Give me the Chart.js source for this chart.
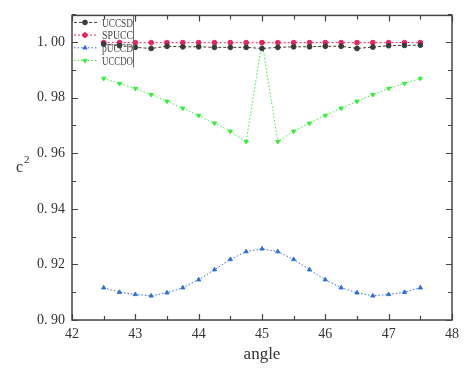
<!DOCTYPE html>
<html>
<head>
    <title>c2 vs angle</title>
    <script src="https://cdn.jsdelivr.net/npm/chart.js"></script>
    <style>
        body { margin: 0; background: #fff; }
    </style>
</head>
<body>
    <canvas id="c2Chart" width="474" height="379"></canvas>

    <script>
        // values
        const angles = [42.5, 42.75, 43, 43.25, 43.5, 43.75, 44, 44.25, 44.5, 44.75, 45,
                        45.25, 45.5, 45.75, 46, 46.25, 46.5, 46.75, 47, 47.25, 47.5];
        const uccsd = [0.9993, 0.9987, 0.9981, 0.9977, 0.9985, 0.9983, 0.9983, 0.9981, 0.9981, 0.9981, 0.9977,
                       0.9981, 0.9983, 0.9983, 0.9985, 0.9985, 0.9977, 0.9982, 0.9987, 0.9988, 0.9989];
        const spucc = [0.9998, 0.9998, 0.9998, 0.9998, 0.9998, 0.9998, 0.9998, 0.9998, 0.9998, 0.9998, 0.9998,
                       0.9998, 0.9998, 0.9998, 0.9998, 0.9998, 0.9998, 0.9998, 0.9998, 0.9998, 0.9998];
        const puccd = [0.9116, 0.9100, 0.9092, 0.9087, 0.9098, 0.9116, 0.9145, 0.9181, 0.9218, 0.9246, 0.9256,
                       0.9246, 0.9218, 0.9181, 0.9145, 0.9116, 0.9098, 0.9087, 0.9092, 0.9100, 0.9116];
        const uccdo = [0.9869, 0.9851, 0.9833, 0.9811, 0.9787, 0.9762, 0.9736, 0.9708, 0.9679, 0.9642, 1.0000,
                       0.9642, 0.9679, 0.9708, 0.9736, 0.9762, 0.9787, 0.9811, 0.9833, 0.9851, 0.9869];

        const xTicks = [42, 43, 44, 45, 46, 47, 48];
        const yTicks = [0.90, 0.92, 0.94, 0.96, 0.98, 1.00];

        const serif = '"Liberation Serif", "DejaVu Serif", serif';

        function pts(ys) {
            return angles.map((a, i) => ({ x: a, y: ys[i] }));
        }

        // frame, inward ticks on all four sides, legend and upright y title
        const framePlugin = {
            id: 'frame',
            afterDraw(chart) {
                const { ctx, chartArea: a, scales } = chart;
                const xs = scales.x, ys = scales.y;
                ctx.save();
                ctx.strokeStyle = '#444';
                ctx.lineWidth = 1.5;
                ctx.strokeRect(a.left, a.top, a.right - a.left, a.bottom - a.top);
                ctx.lineWidth = 1.2;
                ctx.beginPath();
                for (let v = 42; v <= 48.001; v += 0.5) {
                    const px = Math.round(xs.getPixelForValue(v)) + 0.5;
                    const len = Math.abs(v - Math.round(v)) < 0.01 ? 6 : 4;
                    ctx.moveTo(px, a.bottom); ctx.lineTo(px, a.bottom - len);
                    ctx.moveTo(px, a.top); ctx.lineTo(px, a.top + len);
                }
                for (let v = 0.90; v <= 1.0101; v += 0.01) {
                    const py = Math.round(ys.getPixelForValue(v)) + 0.5;
                    const major = Math.round(v * 100) % 2 === 0;
                    const len = major ? 6 : 4;
                    ctx.moveTo(a.left, py); ctx.lineTo(a.left + len, py);
                    ctx.moveTo(a.right, py); ctx.lineTo(a.right - len, py);
                }
                ctx.stroke();

                // y title, not rotated
                ctx.fillStyle = '#333';
                ctx.font = '16px ' + serif;
                ctx.textBaseline = 'alphabetic';
                ctx.fillText('c', 16, 172);
                ctx.font = '11px ' + serif;
                ctx.fillText('2', 24, 163);

                // legend in the upper left corner
                const lx = a.left, ly = a.top;
                ctx.lineWidth = 1;
                ctx.strokeStyle = '#666';
                ctx.beginPath();
                ctx.moveTo(lx + 61.5, ly); ctx.lineTo(lx + 61.5, ly + 52);
                ctx.stroke();
                ctx.font = '12px ' + serif;
                ctx.textBaseline = 'middle';
                chart.data.datasets.forEach((ds, i) => {
                    const yy = ly + 7 + i * 12.7;
                    ctx.strokeStyle = ds.borderColor;
                    ctx.fillStyle = ds.backgroundColor;
                    ctx.setLineDash(ds.borderDash);
                    ctx.beginPath();
                    ctx.moveTo(lx + 2, yy); ctx.lineTo(lx + 25, yy);
                    ctx.stroke();
                    ctx.setLineDash([]);
                    Chart.helpers.drawPoint(ctx, {
                        pointStyle: ds.pointStyle, radius: 2.4, rotation: ds.rotation || 0, borderWidth: 1
                    }, lx + 13, yy);
                    ctx.fillStyle = '#444';
                    ctx.fillText(ds.label, lx + 30, yy + 1, 31);
                });
                ctx.restore();
            }
        };

        function series(label, data, color, dash, style, rot) {
            return {
                label: label,
                data: pts(data),
                borderColor: color,
                backgroundColor: color,
                borderWidth: 1,
                borderDash: dash,
                pointStyle: style,
                rotation: rot || 0,
                pointRadius: 2.4,
                pointBorderWidth: 1,
                showLine: true,
                fill: false
            };
        }

        const ctx = document.getElementById('c2Chart').getContext('2d');
        new Chart(ctx, {
            type: 'scatter',
            data: {
                datasets: [
                    series('UCCSD', uccsd, '#3a3a3a', [3, 2], 'circle'),
                    series('SPUCC', spucc, '#e8245c', [2, 2], 'circle'),
                    series('pUCCD', puccd, '#2c6fdc', [1.5, 2], 'triangle'),
                    series('UCCDO', uccdo, '#2ff02f', [1.5, 2], 'triangle', 180)
                ]
            },
            plugins: [framePlugin],
            options: {
                responsive: false,
                animation: false,
                layout: { padding: { top: 12, right: 22, left: 0, bottom: 0 } },
                plugins: { legend: { display: false }, tooltip: { enabled: false } },
                scales: {
                    x: {
                        type: 'linear',
                        min: 42, max: 48,
                        grid: { display: false, drawTicks: false },
                        border: { display: false },
                        afterBuildTicks: s => { s.ticks = xTicks.map(v => ({ value: v })); },
                        afterFit: s => { s.height = 59; },
                        ticks: {
                            color: '#333',
                            font: { family: serif, size: 14 },
                            padding: 6,
                            maxRotation: 0,
                            callback: v => String(v)
                        },
                        title: {
                            display: true,
                            text: 'angle',
                            color: '#333',
                            font: { family: serif, size: 17 },
                            padding: { top: 4, bottom: 14 }
                        }
                    },
                    y: {
                        type: 'linear',
                        min: 0.90, max: 1.0096,
                        grid: { display: false, drawTicks: false },
                        border: { display: false },
                        afterBuildTicks: s => { s.ticks = yTicks.map(v => ({ value: v })); },
                        afterFit: s => { s.width = 72; },
                        ticks: {
                            color: '#333',
                            font: { family: serif, size: 14 },
                            padding: 7,
                            callback: v => v.toFixed(2).replace('.', '. ')
                        }
                    }
                }
            }
        });
    </script>
</body>
</html>
